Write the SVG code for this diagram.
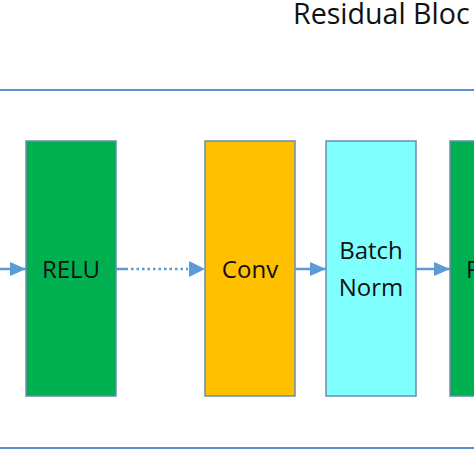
<svg xmlns="http://www.w3.org/2000/svg" width="474" height="474" viewBox="0 0 474 474">
<style>
.box{stroke:#6a8cb0;stroke-width:1.5}
.lbl{font-family:"Open Sans","Liberation Sans",sans-serif;font-size:24px;fill:#111;text-anchor:middle}
.frame{stroke:#5b8fd0;stroke-width:2;fill:none}
.cn{stroke:#5b9bd5;stroke-width:2.5}
</style>
<defs>
<marker id="ahb" markerWidth="16" markerHeight="14" refX="16" refY="7" orient="auto" markerUnits="userSpaceOnUse">
<path d="M0,0 L16,7 L0,14 z" fill="#5b9bd5"/>
</marker>
</defs>
<text x="293" y="24" style="font-family:'Open Sans','Liberation Sans',sans-serif;font-size:28.6px;fill:#111">Residual Bloc</text>
<g id="frame">
<line class="frame" x1="0" y1="90" x2="474" y2="90"/>
<line class="frame" x1="0" y1="448" x2="474" y2="448"/>
</g>
<g id="relu">
<rect class="box" x="26" y="141" width="90" height="255" fill="#00b050"/>
<text class="lbl" x="71" y="278">RELU</text>
</g>
<g id="conv">
<rect class="box" x="205" y="141" width="90" height="255" fill="#ffc000"/>
<text class="lbl" x="250" y="278">Conv</text>
</g>
<g id="batchnorm">
<rect class="box" x="326" y="141" width="90" height="255" fill="#80ffff"/>
<text class="lbl" x="371" y="259">Batch</text>
<text class="lbl" x="371" y="296">Norm</text>
</g>
<g id="relu2">
<rect class="box" x="450" y="141" width="40" height="255" fill="#00b050"/>
<text class="lbl" x="466" y="278" style="text-anchor:start">R</text>
</g>
<g id="connectors">
<line class="cn" x1="0" y1="269" x2="26" y2="269" marker-end="url(#ahb)"/>
<line class="cn" x1="116" y1="269" x2="128" y2="269"/>
<line class="cn" x1="131" y1="269" x2="188" y2="269" stroke-dasharray="2.5 3"/>
<path d="M189,261 L205,269 L189,277 z" fill="#5b9bd5"/>
<line class="cn" x1="295" y1="269" x2="326" y2="269" marker-end="url(#ahb)"/>
<line class="cn" x1="416" y1="269" x2="450" y2="269" marker-end="url(#ahb)"/>
</g>
</svg>
